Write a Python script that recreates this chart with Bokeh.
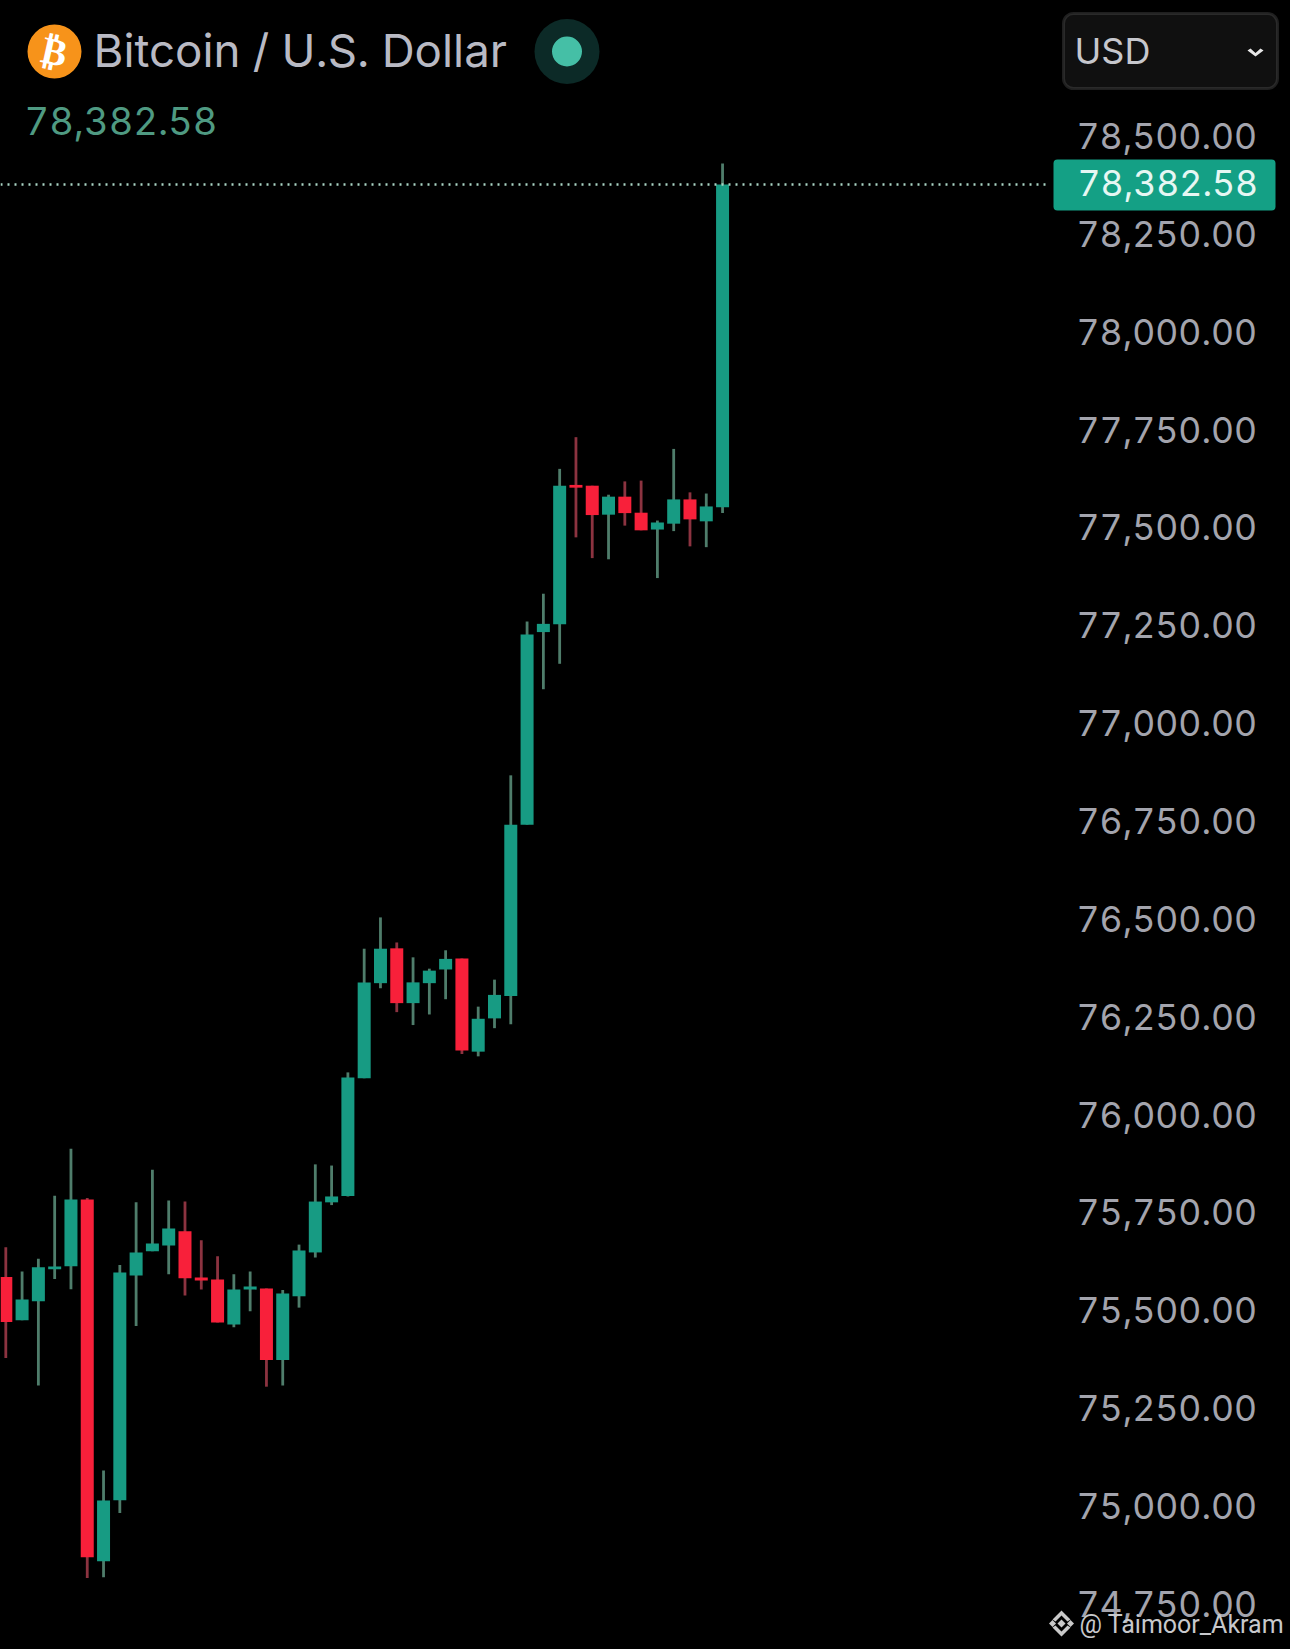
from bokeh.plotting import figure
from bokeh.embed import file_html
from bokeh.resources import INLINE
from bokeh.models import (Range1d, LinearAxis, FixedTicker, NumeralTickFormatter, Label,
                          BoxAnnotation, PolyAnnotation, ColumnDataSource, GlobalInlineStyleSheet)

opens = [75591,75481,75529,75611,75619,75789,74865,75021,75595,75657,75672,75708,75590,75585,75470,75559,75562,75379,75542,75654,75782,75798,76099,76342,76431,76291,76342,76377,76405,76167,76252,76309,76747,77239,77259,77615,77613,77539,77585,77544,77501,77516,77578,77522,77558]
highs = [75667,75605,75638,75799,75919,75793,75097,75622,75782,75865,75787,75784,75685,75644,75598,75605,75562,75558,75674,75879,75876,76114,76430,76510,76446,76408,76379,76426,76405,76282,76351,76873,77266,77337,77656,77737,77613,77590,77624,77626,77524,77707,77596,77593,78436]
lows = [75384,75481,75314,75586,75560,74822,74824,74988,75466,75657,75598,75544,75559,75475,75463,75504,75311,75314,75513,75641,75775,75797,76099,76329,76268,76235,76262,76301,76161,76155,76227,76237,76747,77093,77158,77481,77428,77425,77511,77499,77377,77497,77458,77456,77543]
closes = [75476,75534,75616,75618,75789,74875,75020,75603,75654,75677,75715,75588,75582,75475,75559,75567,75379,75549,75659,75784,75797,76101,76344,76430,76291,76344,76374,76404,76170,76251,76312,76747,77233,77260,77613,77608,77538,77585,77543,77499,77519,77578,77527,77560,78382.58]

last_price = 78382.58
tick_values = [78500,78250,78000,77750,77500,77250,77000,76750,76500,76250,76000,75750,75500,75250,75000,74750]
title_text = "Bitcoin / U.S. Dollar"
last_text = "78,382.58"
currency = "USD"
watermark = "@ Taimoor_Akram"

UP, DOWN = "#179b83", "#f8203a"
UP_WICK, DOWN_WICK = "#4f7d6b", "#8c3340"

index = list(range(len(opens)))
up = [c >= o for o, c in zip(opens, closes)]
src = ColumnDataSource(dict(
    i=index,
    h=highs, l=lows,
    top=[max(o, c) for o, c in zip(opens, closes)],
    bot=[min(o, c) for o, c in zip(opens, closes)],
    col=[UP if u else DOWN for u in up],
    wick=[UP_WICK if u else DOWN_WICK for u in up],
))

W, H = 1290, 1649
X_PER_PX = 1 / 16.29
Y_PER_PX = 2.555

def dx(px):
    return (px - 5.3) * X_PER_PX
def dy(py):
    return 78852.7 - Y_PER_PX * py

p = figure(width=W, height=H, output_backend="svg", toolbar_location=None,
           x_range=Range1d(dx(0), dx(W)), y_range=Range1d(dy(H), dy(0)),
           background_fill_color="#000000", border_fill_color="#000000",
           min_border_left=0, min_border_right=0, min_border_top=0, min_border_bottom=0,
           x_axis_location=None, y_axis_location=None, outline_line_color=None)
p.grid.visible = False
p.stylesheets = [GlobalInlineStyleSheet(css="html,body{background:#000000;font-variant-numeric:tabular-nums;}")]

# tick labels sit 2.5px above their price level, as in the reference
LABEL_SHIFT = 2.5 * Y_PER_PX
p.extra_y_ranges = {"labels": Range1d(dy(H) - LABEL_SHIFT, dy(0) - LABEL_SHIFT)}
axis = LinearAxis(y_range_name="labels", ticker=FixedTicker(ticks=tick_values),
                  formatter=NumeralTickFormatter(format="0,0.00"))
axis.axis_line_color = None
axis.major_tick_line_color = None
axis.minor_tick_line_color = None
axis.major_tick_out = 0
axis.major_label_standoff = -W + 1076
axis.major_label_text_font = "Inter"
axis.major_label_text_font_size = "35.6px"
axis.major_label_text_color = "#a3a4ad"
p.add_layout(axis, "right")

p.segment("i", "h", "i", "l", source=src, line_color="wick", line_width=2.8)
p.vbar("i", 13 * X_PER_PX, "bot", "top", source=src, fill_color="col", line_color=None)

# dotted last-price line, ending where the price tag starts
p.line([dx(0), dx(1048)], [last_price, last_price], line_color="#a9d4c4", line_width=2.4, line_dash="2 5")

# header icons
p.ellipse([dx(54)], [dy(51)], width=54 * X_PER_PX, height=54 * Y_PER_PX, fill_color="#f7931a", line_color=None)
p.ellipse([dx(566.5)], [dy(51)], width=65 * X_PER_PX, height=65 * Y_PER_PX, fill_color="#0c2a27", line_color=None)
p.ellipse([dx(566.5)], [dy(51)], width=30 * X_PER_PX, height=30 * Y_PER_PX, fill_color="#45bfa6", line_color=None)

def label(x, y, text, font, size, color, align="left", style="normal", angle=0.0):
    p.add_layout(Label(x=x, y=y, x_units="canvas", y_units="canvas", text=text,
                       text_font=font, text_font_size=size, text_color=color, text_align=align,
                       text_baseline="middle", text_font_style=style, angle=angle))

def box(l, r, t, b, **kw):
    p.add_layout(BoxAnnotation(left=l, right=r, top=t, bottom=b,
                               left_units="canvas", right_units="canvas",
                               top_units="canvas", bottom_units="canvas", fill_alpha=1, **kw))

def poly(pts, color):
    p.add_layout(PolyAnnotation(xs=[a for a, _ in pts], ys=[b for _, b in pts],
                                xs_units="canvas", ys_units="canvas",
                                fill_color=color, fill_alpha=1, line_color=None))

label(54, 51, "\u20bf", "DejaVu Sans", "38px", "#ffffff", align="center", style="bold", angle=-0.22)
label(93, 50, title_text, "Inter", "45.7px", "#b9bac4")
label(24, 120, last_text, "Inter", "38px", "#4f9a82")

# currency select box
box(1063, 1277, 13, 88, fill_color="#101010", line_color="#666666", line_width=3, border_radius=10)
label(1074, 50, currency, "Inter", "36px", "#c6c7cd")
poly([(1247,50),(1250,48),(1255,52.5),(1260,48),(1263,50),(1255,56)], "#e8e8e8")

# last price tag
box(1053, 1275, 159, 210, fill_color="#14a085", line_color=None, border_radius=4)
label(1077, 182, last_text, "Inter", "35.6px", "#e6f7f3")

# watermark
for a, b, r in [(1061, 1623, 4), (1052, 1623, 3.5), (1070, 1623, 3.5)]:
    poly([(a - r, b), (a, b - r), (a + r, b), (a, b + r)], "#c9c9c9")
poly([(1061,1610),(1070,1619),(1067,1621),(1061,1615),(1055,1621),(1052,1619)], "#c9c9c9")
poly([(1061,1636),(1070,1627),(1067,1625),(1061,1631),(1055,1625),(1052,1627)], "#c9c9c9")
label(1079, 1624, watermark, "Roboto", "25px", "#c8c9cc")

open("out.html", "w").write(file_html(p, INLINE))
